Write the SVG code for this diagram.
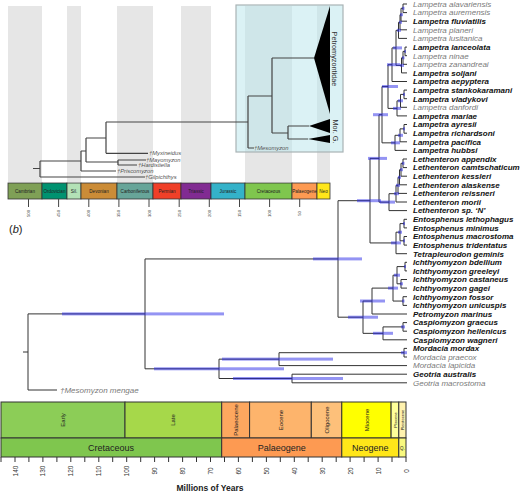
<svg xmlns="http://www.w3.org/2000/svg" width="520" height="493" viewBox="0 0 520 493">
<style>
text{font-family:"Liberation Sans",Arial,sans-serif}
.band{fill:#e6e6e6}
.ta{fill:none;stroke:#444;stroke-width:1.2}
.tb{fill:none;stroke:#333;stroke-width:1}
.fa{font-size:5.8px;font-style:italic;fill:#555}
.per{stroke:#333;stroke-width:0.8}
.pl{font-size:4.6px;fill:#222;text-anchor:middle}
.tk{stroke:#444;stroke-width:1}
.tkl{font-size:4.2px;fill:#444;text-anchor:middle;dominant-baseline:central}
.bar{fill:#2a2ae8;fill-opacity:0.5}
.sb{font-size:8px;font-style:italic;font-weight:bold;fill:#111}
.sg{font-size:8px;font-style:italic;fill:#7a7a7a}
.ep{stroke:#333;stroke-width:1}
.el{font-size:6px;fill:#222;text-anchor:middle;dominant-baseline:central}
.els{font-size:4px;fill:#222;text-anchor:middle;dominant-baseline:central}
.btk{stroke:#333;stroke-width:1}
.btl{font-size:6.5px;fill:#333;text-anchor:middle;dominant-baseline:central}
</style>

<!-- Panel (a) -->
<text x="9" y="20" font-size="11" fill="#222">(<tspan font-style="italic">a</tspan>)</text>
<g id="bands-a">
<rect class="band" x="8" y="6" width="34" height="176"/>
<rect class="band" x="67" y="6" width="14" height="176"/>
<rect class="band" x="117" y="6" width="36" height="176"/>
<rect class="band" x="181" y="6" width="30" height="176"/>
<rect class="band" x="245" y="6" width="47" height="176"/>
<rect class="band" x="317" y="6" width="13" height="176"/>
</g>
<g id="petromyzontidae-box">
<rect x="236" y="5" width="107" height="147" fill="#b8e6ec" fill-opacity="0.5" stroke="#a9b3b5" stroke-width="1.2"/>
</g>
<g id="tree-a">
<path class="ta" d="M33 168.5H40M40 161V177M40 177H145M40 161H81M81 151V171M81 171H116M81 151H86M86 138V162M86 162H118M118 160V165M118 160H146M118 165H137M86 138H106M106 122V153.3M106 153.3H148M106 122H248M248 96V148M248 148H254M248 96H272M272 58V133M272 58H314M272 133H288M288 126V139M288 126H309M288 139H308"/>
<polygon points="314,58 330,6 330,114" fill="#000"/>
<polygon points="309,126 330,119 330,133" fill="#000"/>
<polygon points="308,139 330,135 330,143" fill="#000"/>
</g>
<g id="labels-a">
<text class="fa" x="149" y="155.3">†Myxineidus</text>
<text class="fa" x="146" y="161.8">†Mayomyzon</text>
<text class="fa" x="138" y="167.1">†Hardistiella</text>
<text class="fa" x="117" y="173.1">†Priscomyzon</text>
<text class="fa" x="145" y="178.8">†Gilpichthys</text>
<text class="fa" x="254" y="150.1">†Mesomyzon</text>
<text x="334" y="59" font-size="7.3" fill="#333" text-anchor="middle" dominant-baseline="central" transform="rotate(90 334 59)">Petromyzontidae</text>
<text x="335" y="131.5" font-size="7.3" fill="#333" text-anchor="middle" dominant-baseline="central" transform="rotate(90 335 131.5)">Mor. G.</text>
</g>
<g id="timescale-a">
<rect class="per" x="8" y="183" width="34" height="16" fill="#7FA056"/>
<rect class="per" x="42" y="183" width="25" height="16" fill="#009270"/>
<rect class="per" x="67" y="183" width="14" height="16" fill="#B3E1B6"/>
<rect class="per" x="81" y="183" width="36" height="16" fill="#CB8C37"/>
<rect class="per" x="117" y="183" width="36" height="16" fill="#67A599"/>
<rect class="per" x="153" y="183" width="28" height="16" fill="#F04028"/>
<rect class="per" x="181" y="183" width="30" height="16" fill="#812B92"/>
<rect class="per" x="211" y="183" width="34" height="16" fill="#34B2C9"/>
<rect class="per" x="245" y="183" width="47" height="16" fill="#7FC64E"/>
<rect class="per" x="292" y="183" width="25" height="16" fill="#FD9A52"/>
<rect class="per" x="317" y="183" width="13" height="16" fill="#FFE619"/>
<text class="pl" x="25" y="192.6">Cambrian</text>
<text class="pl" x="54.5" y="192.6">Ordovician</text>
<text class="pl" x="74" y="192.6">Sil.</text>
<text class="pl" x="99" y="192.6">Devonian</text>
<text class="pl" x="135" y="192.6">Carboniferous</text>
<text class="pl" x="167" y="192.6">Permian</text>
<text class="pl" x="196" y="192.6">Triassic</text>
<text class="pl" x="228" y="192.6">Jurassic</text>
<text class="pl" x="268.5" y="192.6">Cretaceous</text>
<text class="pl" x="304.5" y="192.6">Palaeogene</text>
<text class="pl" x="323.5" y="192.6">Neo</text>
<path class="tk" d="M28.5 199V207M58.6 199V207M88.8 199V207M118.9 199V207M149 199V207M179.2 199V207M209.3 199V207M239.5 199V207M269.6 199V207M299.7 199V207"/>
<text class="tkl" transform="translate(28.5 213.5) rotate(-90)">500</text>
<text class="tkl" transform="translate(58.6 213.5) rotate(-90)">450</text>
<text class="tkl" transform="translate(88.8 213.5) rotate(-90)">400</text>
<text class="tkl" transform="translate(118.9 213.5) rotate(-90)">350</text>
<text class="tkl" transform="translate(149 213.5) rotate(-90)">300</text>
<text class="tkl" transform="translate(179.2 213.5) rotate(-90)">250</text>
<text class="tkl" transform="translate(209.3 213.5) rotate(-90)">200</text>
<text class="tkl" transform="translate(239.5 213.5) rotate(-90)">150</text>
<text class="tkl" transform="translate(269.6 213.5) rotate(-90)">100</text>
<text class="tkl" transform="translate(299.7 213.5) rotate(-90)">50</text>
</g>

<!-- Panel (b) -->
<text x="9" y="233" font-size="11" fill="#222">(<tspan font-style="italic">b</tspan>)</text>
<g id="connectors">
<path class="tb" d="
M403 4V12.6M401 8.3V21.2M400 14.75V29.8M398.5 22.3V38.4
M405 47.1V55.7M403 51.4V64.3M401.5 57.85V72.9M396 30.35V65.4M392 47.9V81.5
M404 90.1V98.7M400.5 94.4V107.3M397 100.85V115.9M388 64.7V108.4
M404 124.5V133.2M400 128.85V141.8M395 135.3V150.4M382 86.55V142.85
M403 159V167.6M401 163.3V176.2M399.5 169.75V184.8M398 177.3V193.4M396 185.35V202M389 193.7V210.6M379 114.7V202.15
M404 219.3V227.9M404 236.5V245.1M400 223.6V240.8M396 232.2V253.7M370 158.4V242.95
M405 262.3V270.9M401 279.5V288.1M397 266.6V283.8M403 296.7V305.4M393 275.2V301.05M372 288.1V314
M403 322.6V331.2M383 326.9V339.8M363 301.05V333.35M338 200.7V317.2
M404 348.4V357M279 352.7V365.6M292 374.2V382.8M219 359.15V378.5M145 258.95V368.8M28 313.9V390
M403 4H407M403 12.6H407M401 21.2H407M400 29.8H407M398.5 38.4H407
M405 47.1H407M405 55.7H407M403 64.3H407M401.5 72.9H407M392 81.5H407
M404 90.1H407M404 98.7H407M400.5 107.3H407M397 115.9H407
M404 124.5H407M404 133.2H407M400 141.8H407M395 150.4H407
M403 159H407M403 167.6H407M401 176.2H407M399.5 184.8H407M398 193.4H407M396 202H407M389 210.6H407
M404 219.3H407M404 227.9H407M404 236.5H407M404 245.1H407M396 253.7H407
M405 262.3H407M405 270.9H407M401 279.5H407M401 288.1H407M403 296.7H407M403 305.4H407M372 314H407
M403 322.6H407M403 331.2H407M383 339.8H407
M404 348.4H407M404 357H407M279 365.6H407M292 374.2H407M292 382.8H407M28 390H57
M401 8.3H403M400 14.75H401M398.5 22.3H400M396 30.35H398.5
M403 51.4H405M401.5 57.85H403M396 65.4H401.5M392 47.9H396M388 64.7H392
M400.5 94.4H404M397 100.85H400.5M388 108.4H397M382 86.55H388
M400 128.85H404M395 135.3H400M382 142.85H395M379 114.7H382
M401 163.3H403M399.5 169.75H401M398 177.3H399.5M396 185.35H398M389 193.7H396M379 202.15H389M370 158.4H379
M400 223.6H404M400 240.8H404M396 232.2H400M370 242.95H396M338 200.7H370
M397 266.6H405M397 283.8H401M393 275.2H397M393 301.05H403M372 288.1H393M363 301.05H372
M383 326.9H403M363 333.35H383M338 317.2H363M145 258.95H338
M279 352.7H404M219 359.15H279M219 378.5H292M145 368.8H219M28 313.9H145M23 352H28"/>
</g>
<g id="hpd-bars">
<rect class="bar" x="62" y="312.4" width="162" height="3"/>
<rect class="bar" x="154" y="367.3" width="130" height="3"/>
<rect class="bar" x="222" y="357.6" width="111" height="3"/>
<rect class="bar" x="233" y="377" width="110" height="3"/>
<rect class="bar" x="313" y="257.4" width="49" height="3"/>
<rect class="bar" x="401" y="351.2" width="6" height="3"/>
<rect class="bar" x="357" y="199.2" width="24" height="3"/>
<rect class="bar" x="368" y="156.9" width="19" height="3"/>
<rect class="bar" x="380" y="200.6" width="15" height="3"/>
<rect class="bar" x="373" y="113.2" width="15" height="3"/>
<rect class="bar" x="382" y="85" width="16" height="3"/>
<rect class="bar" x="387" y="63.2" width="13" height="3"/>
<rect class="bar" x="393" y="46.4" width="9" height="3"/>
<rect class="bar" x="397" y="28.8" width="4" height="3"/>
<rect class="bar" x="399" y="20.8" width="3" height="3"/>
<rect class="bar" x="400" y="13.2" width="3" height="3"/>
<rect class="bar" x="402" y="6.8" width="2.5" height="3"/>
<rect class="bar" x="400" y="63.9" width="4" height="3"/>
<rect class="bar" x="402" y="56.3" width="2.5" height="3"/>
<rect class="bar" x="404.3" y="49.9" width="1.7" height="3"/>
<rect class="bar" x="393" y="106.9" width="8" height="3"/>
<rect class="bar" x="398" y="99.3" width="5" height="3"/>
<rect class="bar" x="403" y="92.9" width="2" height="3"/>
<rect class="bar" x="391" y="141.3" width="9" height="3"/>
<rect class="bar" x="398" y="133.8" width="5" height="3"/>
<rect class="bar" x="403" y="127.3" width="2" height="3"/>
<rect class="bar" x="394" y="192.2" width="5" height="3"/>
<rect class="bar" x="396" y="183.8" width="4" height="3"/>
<rect class="bar" x="398" y="175.8" width="3" height="3"/>
<rect class="bar" x="400" y="168.2" width="3" height="3"/>
<rect class="bar" x="402" y="161.8" width="2.5" height="3"/>
<rect class="bar" x="391" y="241.4" width="10" height="3"/>
<rect class="bar" x="398" y="230.7" width="4" height="3"/>
<rect class="bar" x="403" y="222.1" width="2" height="3"/>
<rect class="bar" x="403" y="239.3" width="2" height="3"/>
<rect class="bar" x="360" y="299.5" width="25" height="3"/>
<rect class="bar" x="388" y="286.6" width="10" height="3"/>
<rect class="bar" x="394" y="273.7" width="6" height="3"/>
<rect class="bar" x="400" y="282.3" width="3" height="3"/>
<rect class="bar" x="404" y="265.1" width="2" height="3"/>
<rect class="bar" x="402" y="299.5" width="2.5" height="3"/>
<rect class="bar" x="348" y="315.7" width="30" height="3"/>
<rect class="bar" x="373" y="331.8" width="20" height="3"/>
<rect class="bar" x="401" y="325.4" width="4" height="3"/>
</g>
<g id="taxa">
<text class="sg" x="413" y="6.8">Lampetra alavariensis</text>
<text class="sg" x="413" y="15.4">Lampetra auremensis</text>
<text class="sb" x="413" y="24">Lampetra fluviatilis</text>
<text class="sg" x="413" y="32.6">Lampetra planeri</text>
<text class="sg" x="413" y="41.2">Lampetra lusitanica</text>
<text class="sb" x="413" y="49.9">Lampetra lanceolata</text>
<text class="sg" x="413" y="58.5">Lampetra ninae</text>
<text class="sg" x="413" y="67.1">Lampetra zanandreai</text>
<text class="sb" x="413" y="75.7">Lampetra soljani</text>
<text class="sb" x="413" y="84.3">Lampetra aepyptera</text>
<text class="sb" x="413" y="92.9">Lampetra stankokaramani</text>
<text class="sb" x="413" y="101.5">Lampetra vladykovi</text>
<text class="sg" x="413" y="110.1">Lampetra danfordi</text>
<text class="sb" x="413" y="118.7">Lampetra mariae</text>
<text class="sb" x="413" y="127.3">Lampetra ayresii</text>
<text class="sb" x="413" y="136">Lampetra richardsoni</text>
<text class="sb" x="413" y="144.6">Lampetra pacifica</text>
<text class="sb" x="413" y="153.2">Lampetra hubbsi</text>
<text class="sb" x="413" y="161.8">Lethenteron appendix</text>
<text class="sb" x="413" y="170.4">Lethenteron camtschaticum</text>
<text class="sb" x="413" y="179">Lethenteron kessleri</text>
<text class="sb" x="413" y="187.6">Lethenteron alaskense</text>
<text class="sb" x="413" y="196.2">Lethenteron reissneri</text>
<text class="sb" x="413" y="204.8">Lethenteron morii</text>
<text class="sb" x="413" y="213.4">Lethenteron sp. ‘N’</text>
<text class="sb" x="413" y="222.1">Entosphenus lethophagus</text>
<text class="sb" x="413" y="230.7">Entosphenus minimus</text>
<text class="sb" x="413" y="239.3">Entosphenus macrostoma</text>
<text class="sb" x="413" y="247.9">Entosphenus tridentatus</text>
<text class="sb" x="413" y="256.5">Tetrapleurodon geminis</text>
<text class="sb" x="413" y="265.1">Ichthyomyzon bdellium</text>
<text class="sb" x="413" y="273.7">Ichthyomyzon greeleyi</text>
<text class="sb" x="413" y="282.3">Ichthyomyzon castaneus</text>
<text class="sb" x="413" y="290.9">Ichthyomyzon gagei</text>
<text class="sb" x="413" y="299.5">Ichthyomyzon fossor</text>
<text class="sb" x="413" y="308.2">Ichthyomyzon unicuspis</text>
<text class="sb" x="413" y="316.8">Petromyzon marinus</text>
<text class="sb" x="413" y="325.4">Caspiomyzon graecus</text>
<text class="sb" x="413" y="334">Caspiomyzon hellenicus</text>
<text class="sb" x="413" y="342.6">Caspiomyzon wagneri</text>
<text class="sb" x="413" y="351.2">Mordacia mordax</text>
<text class="sg" x="413" y="359.8">Mordacia praecox</text>
<text class="sg" x="413" y="368.4">Mordacia lapicida</text>
<text class="sb" x="413" y="377">Geotria australis</text>
<text class="sg" x="413" y="385.6">Geotria macrostoma</text>
<text class="sg" x="60" y="392.8">†Mesomyzon mengae</text>
</g>
<g id="timescale-b">
<rect class="ep" x="1" y="402" width="124" height="36" fill="#8CCD57"/>
<rect class="ep" x="125" y="402" width="96.7" height="36" fill="#A6D84A"/>
<rect class="ep" x="221.7" y="402" width="27.9" height="36" fill="#FDA75F"/>
<rect class="ep" x="249.6" y="402" width="61.7" height="36" fill="#FDB46C"/>
<rect class="ep" x="311.3" y="402" width="30.5" height="36" fill="#FDC07A"/>
<rect class="ep" x="341.8" y="402" width="49.3" height="36" fill="#FFFF00"/>
<rect class="ep" x="391.1" y="402" width="7.7" height="36" fill="#FFFF99"/>
<rect class="ep" x="398.8" y="402" width="7.2" height="36" fill="#FFF2AE"/>
<rect class="ep" x="1" y="438" width="220.7" height="19" fill="#7FC64E"/>
<rect class="ep" x="221.7" y="438" width="120.1" height="19" fill="#FD9A52"/>
<rect class="ep" x="341.8" y="438" width="57" height="19" fill="#FFE619"/>
<rect class="ep" x="398.8" y="438" width="7.2" height="19" fill="#F9F97F"/>
<text class="el" transform="translate(63 420) rotate(-90)">Early</text>
<text class="el" transform="translate(173.3 420) rotate(-90)">Late</text>
<text class="el" transform="translate(235.6 420) rotate(-90)">Palaeocene</text>
<text class="el" transform="translate(280.5 420) rotate(-90)">Eocene</text>
<text class="el" transform="translate(326.5 420) rotate(-90)">Oligocene</text>
<text class="el" transform="translate(366.5 420) rotate(-90)">Miocene</text>
<text class="els" transform="translate(395 420) rotate(-90)">Pliocene</text>
<text class="els" transform="translate(402.4 420) rotate(-90)">Pleistocene</text>
<text x="111" y="451" font-size="9" fill="#222" text-anchor="middle">Cretaceous</text>
<text x="281.8" y="451" font-size="9" fill="#222" text-anchor="middle">Palaeogene</text>
<text x="370.3" y="451" font-size="9" fill="#222" text-anchor="middle">Neogene</text>
<text x="402.4" y="449.5" font-size="4.5" fill="#222" text-anchor="middle">Q.</text>
<path class="btk" d="M406 457V462M392 457V462M378.1 457V462M364.1 457V462M350.1 457V462M336.2 457V462M322.2 457V462M308.2 457V462M294.3 457V462M280.3 457V462M266.4 457V462M252.4 457V462M238.4 457V462M224.5 457V462M210.5 457V462M196.5 457V462M182.6 457V462M168.6 457V462M154.6 457V462M140.7 457V462M126.7 457V462M112.7 457V462M98.8 457V462M84.8 457V462M70.8 457V462M56.9 457V462M42.9 457V462M28.9 457V462M15 457V462M1 457V462"/>
<text class="btl" transform="translate(406 471) rotate(-90)">0</text>
<text class="btl" transform="translate(378.1 471) rotate(-90)">10</text>
<text class="btl" transform="translate(350.1 471) rotate(-90)">20</text>
<text class="btl" transform="translate(322.2 471) rotate(-90)">30</text>
<text class="btl" transform="translate(294.3 471) rotate(-90)">40</text>
<text class="btl" transform="translate(266.4 471) rotate(-90)">50</text>
<text class="btl" transform="translate(238.4 471) rotate(-90)">60</text>
<text class="btl" transform="translate(210.5 471) rotate(-90)">70</text>
<text class="btl" transform="translate(182.6 471) rotate(-90)">80</text>
<text class="btl" transform="translate(154.6 471) rotate(-90)">90</text>
<text class="btl" transform="translate(126.7 471) rotate(-90)">100</text>
<text class="btl" transform="translate(98.8 471) rotate(-90)">110</text>
<text class="btl" transform="translate(70.8 471) rotate(-90)">120</text>
<text class="btl" transform="translate(42.9 471) rotate(-90)">130</text>
<text class="btl" transform="translate(15 471) rotate(-90)">140</text>
<text x="210" y="491" font-size="8.5" font-weight="bold" fill="#222" text-anchor="middle">Millions of Years</text>
</g>
</svg>
